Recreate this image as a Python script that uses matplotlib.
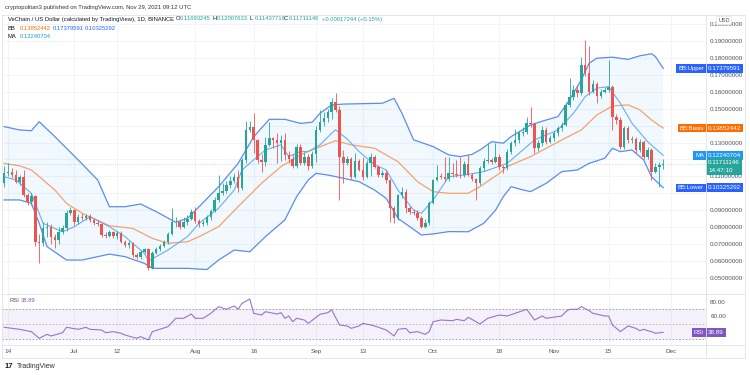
import numpy as np
import matplotlib
matplotlib.use("Agg")
from matplotlib import pyplot as plt
from matplotlib import transforms
from matplotlib.ticker import FixedFormatter
from matplotlib.lines import Line2D

plt.rcParams['font.family'] = ['Liberation Sans', 'DejaVu Sans']

"""Datos: velas diarias VET/USD, indice 0 = 13 jun 2021, ultimo = 29 nov"""
first_open = 0.1059
closes = [0.1118, 0.1128, 0.1108, 0.1069, 0.1098, 0.0990, 0.0951, 0.0984, 0.0714, 0.0705,
          0.0793, 0.0803, 0.0744, 0.0724, 0.0773, 0.0793, 0.0882, 0.0902, 0.0833, 0.0862,
          0.0852, 0.0866, 0.0842, 0.0823, 0.0819, 0.0754, 0.0750, 0.0773, 0.0748, 0.0768,
          0.0714, 0.0695, 0.0708, 0.0636, 0.0626, 0.0655, 0.0669, 0.0557, 0.0649, 0.0669,
          0.0691, 0.0710, 0.0760, 0.0829, 0.0833, 0.0803, 0.0829, 0.0848, 0.0888, 0.0836,
          0.0817, 0.0823, 0.0858, 0.0898, 0.0961, 0.1004, 0.1016, 0.1049, 0.1075, 0.1098,
          0.1030, 0.1197, 0.1375, 0.1394, 0.1315, 0.1197, 0.1187, 0.1286, 0.1325, 0.1315,
          0.1296, 0.1315, 0.1227, 0.1203, 0.1162, 0.1272, 0.1178, 0.1217, 0.1162, 0.1232,
          0.1375, 0.1424, 0.1444, 0.1483, 0.1542, 0.1493, 0.1217, 0.1178, 0.1201, 0.1099,
          0.1193, 0.1138, 0.1099, 0.1178, 0.1217, 0.1158, 0.1109, 0.1119, 0.1079, 0.0912,
          0.0853, 0.0990, 0.1010, 0.0912, 0.0892, 0.0882, 0.0853, 0.0803, 0.0823, 0.0941,
          0.1079, 0.1099, 0.1098, 0.1083, 0.1122, 0.1112, 0.1108, 0.1106, 0.1173, 0.1110,
          0.1083, 0.1063, 0.1148, 0.1193, 0.1197, 0.1187, 0.1217, 0.1158, 0.1148, 0.1246,
          0.1296, 0.1315, 0.1355, 0.1364, 0.1414, 0.1410, 0.1266, 0.1296, 0.1374, 0.1305,
          0.1325, 0.1355, 0.1384, 0.1404, 0.1522, 0.1571, 0.1611, 0.1591, 0.1758, 0.1709,
          0.1601, 0.1646, 0.1575, 0.1601, 0.1611, 0.1627, 0.1453, 0.1433, 0.1276, 0.1384,
          0.1315, 0.1323, 0.1256, 0.1305, 0.1217, 0.1256, 0.1128, 0.1158, 0.11693245, 0.11711146]
highs = [0.1160, 0.1180, 0.1150, 0.1140, 0.1110, 0.1140, 0.1000, 0.1000, 0.0990, 0.0760,
         0.0830, 0.0830, 0.0820, 0.0760, 0.0800, 0.0810, 0.0900, 0.0920, 0.0910, 0.0880,
         0.0885, 0.0880, 0.0875, 0.0855, 0.0840, 0.0825, 0.0770, 0.0785, 0.0780, 0.0780,
         0.0775, 0.0725, 0.0720, 0.0715, 0.0650, 0.0665, 0.0680, 0.0675, 0.0660, 0.0685,
         0.0700, 0.0725, 0.0770, 0.0915, 0.0860, 0.0845, 0.0862, 0.0870, 0.0905, 0.0921,
         0.0850, 0.0840, 0.0870, 0.0910, 0.0980, 0.1108, 0.1060, 0.1070, 0.1100, 0.1120,
         0.1140, 0.1210, 0.1430, 0.1430, 0.1473, 0.1320, 0.1230, 0.1330, 0.1420, 0.1335,
         0.1355, 0.1345, 0.1355, 0.1250, 0.1230, 0.1290, 0.1290, 0.1245, 0.1235, 0.1250,
         0.1400, 0.1493, 0.1480, 0.1500, 0.1560, 0.1591, 0.1515, 0.1256, 0.1220, 0.1215,
         0.1236, 0.1200, 0.1217, 0.1195, 0.1236, 0.1225, 0.1170, 0.1135, 0.1135, 0.1085,
         0.0925, 0.0995, 0.1040, 0.1025, 0.0925, 0.0910, 0.0900, 0.0865, 0.0850, 0.0955,
         0.1085, 0.1167, 0.1120, 0.1217, 0.1217, 0.1177, 0.1197, 0.1217, 0.1190, 0.1227,
         0.1120, 0.1090, 0.1160, 0.1210, 0.1296, 0.1210, 0.1300, 0.1230, 0.1170, 0.1260,
         0.1310, 0.1380, 0.1370, 0.1390, 0.1453, 0.1512, 0.1420, 0.1315, 0.1400, 0.1390,
         0.1345, 0.1370, 0.1400, 0.1420, 0.1540, 0.1680, 0.1640, 0.1640, 0.1807, 0.1906,
         0.1867, 0.1670, 0.1660, 0.1615, 0.1630, 0.1788, 0.1640, 0.1470, 0.1450, 0.1400,
         0.1395, 0.1340, 0.1335, 0.1320, 0.1315, 0.1275, 0.1265, 0.1180, 0.1187, 0.12007633]
lows = [0.1040, 0.1100, 0.1090, 0.1060, 0.1050, 0.0980, 0.0930, 0.0930, 0.0690, 0.0586,
        0.0690, 0.0740, 0.0700, 0.0680, 0.0700, 0.0760, 0.0780, 0.0870, 0.0815, 0.0820,
        0.0840, 0.0840, 0.0830, 0.0815, 0.0805, 0.0745, 0.0735, 0.0740, 0.0735, 0.0730,
        0.0705, 0.0685, 0.0680, 0.0625, 0.0615, 0.0615, 0.0645, 0.0547, 0.0552, 0.0640,
        0.0660, 0.0685, 0.0700, 0.0755, 0.0800, 0.0790, 0.0795, 0.0810, 0.0840, 0.0825,
        0.0800, 0.0805, 0.0815, 0.0845, 0.0890, 0.0950, 0.0990, 0.1000, 0.1030, 0.1060,
        0.1010, 0.1020, 0.1180, 0.1360, 0.1236, 0.1180, 0.1128, 0.1160, 0.1280, 0.1270,
        0.1177, 0.1190, 0.1197, 0.1180, 0.1150, 0.1150, 0.1165, 0.1165, 0.1140, 0.1150,
        0.1187, 0.1360, 0.1400, 0.1420, 0.1440, 0.1480, 0.0961, 0.1059, 0.1170, 0.1085,
        0.1089, 0.1130, 0.1079, 0.1090, 0.1100, 0.1150, 0.1095, 0.1095, 0.1060, 0.0833,
        0.0823, 0.0845, 0.0975, 0.0882, 0.0880, 0.0870, 0.0845, 0.0795, 0.0795, 0.0815,
        0.0935, 0.1070, 0.1085, 0.1070, 0.1075, 0.1095, 0.1095, 0.1090, 0.1095, 0.1100,
        0.1070, 0.0961, 0.1050, 0.1130, 0.1180, 0.1175, 0.1180, 0.1140, 0.1118, 0.1140,
        0.1230, 0.1280, 0.1300, 0.1340, 0.1350, 0.1390, 0.1236, 0.1250, 0.1280, 0.1290,
        0.1295, 0.1310, 0.1340, 0.1370, 0.1395, 0.1510, 0.1550, 0.1570, 0.1580, 0.1690,
        0.1580, 0.1590, 0.1532, 0.1560, 0.1590, 0.1600, 0.1374, 0.1410, 0.1260, 0.1260,
        0.1300, 0.1300, 0.1240, 0.1245, 0.1200, 0.1205, 0.1079, 0.1120, 0.1040, 0.11437716]

# Bandas de Bollinger y MA (indice de vela, valor)
upper_idx = [0, 4, 7, 9, 13, 19, 24, 27, 31, 35, 39, 44, 47, 50, 55, 60, 64, 68, 72, 76,
             79, 81, 84, 87, 97, 100, 102, 105, 110, 114, 117, 120, 122, 125, 128, 130,
             135, 139, 142, 145, 148, 150, 152, 156, 160, 163, 166, 167, 169]
upper_vals = [0.1394, 0.1374, 0.1370, 0.1423, 0.1335, 0.1197, 0.1079, 0.0921, 0.0921, 0.0937,
              0.0892, 0.0829, 0.0852, 0.0921, 0.1039, 0.1177, 0.1334, 0.1437, 0.1437, 0.1413,
              0.1420, 0.1473, 0.1522, 0.1527, 0.1532, 0.1561, 0.1473, 0.1316, 0.1276, 0.1227,
              0.1217, 0.1230, 0.1256, 0.1305, 0.1296, 0.1335, 0.1404, 0.1433, 0.1453,
              0.1552, 0.1670, 0.1768, 0.1798, 0.1804, 0.1791, 0.1812, 0.1824, 0.1808, 0.17379591]
lower_idx = [0, 4, 7, 9, 11, 16, 20, 27, 31, 36, 38, 47, 52, 55, 59, 63, 67, 72, 75, 78,
             80, 83, 87, 91, 95, 98, 101, 104, 107, 110, 114, 119, 123, 126, 128, 130, 133,
             135, 139, 143, 147, 150, 154, 156, 158, 161, 164, 166, 169]
lower_vals = [0.0961, 0.0961, 0.0941, 0.0823, 0.0685, 0.0606, 0.0606, 0.0641, 0.0626, 0.0586,
              0.0557, 0.0557, 0.0550, 0.0606, 0.0665, 0.0655, 0.0744, 0.0843, 0.0980, 0.1079,
              0.1118, 0.1108, 0.1089, 0.1069, 0.1019, 0.0970, 0.0852, 0.0803, 0.0754, 0.0760,
              0.0774, 0.0773, 0.0823, 0.0900, 0.0980, 0.1039, 0.1020, 0.1010, 0.1059, 0.1128,
              0.1138, 0.1177, 0.1207, 0.1266, 0.1246, 0.1256, 0.1197, 0.1098, 0.10325292]
basis_idx = [0, 4, 7, 13, 16, 20, 27, 33, 38, 42, 47, 50, 55, 60, 66, 71, 76, 80, 85, 89,
             95, 101, 106, 110, 114, 119, 122, 127, 129, 135, 143, 148, 152, 156, 160, 163,
             166, 169]
basis_vals = [0.1177, 0.1162, 0.1138, 0.1020, 0.0941, 0.0882, 0.0809, 0.0793, 0.0734, 0.0705,
              0.0714, 0.0744, 0.0803, 0.0921, 0.1059, 0.1158, 0.1227, 0.1266, 0.1311, 0.1286,
              0.1266, 0.1187, 0.1069, 0.1010, 0.1000, 0.1000, 0.1039, 0.1118, 0.1158, 0.1217,
              0.1315, 0.1374, 0.1463, 0.1516, 0.1522, 0.1493, 0.1433, 0.13852442]
ma_idx = [0, 3, 7, 10, 15, 18, 22, 27, 31, 36, 37, 42, 47, 50, 55, 59, 61, 65, 67, 71,
          73, 76, 78, 81, 84, 85, 88, 91, 95, 98, 101, 105, 107, 110, 114, 118, 123, 129,
          132, 136, 139, 142, 146, 149, 152, 155, 158, 161, 165, 169]
ma_vals = [0.1098, 0.1079, 0.1000, 0.0823, 0.0773, 0.0803, 0.0862, 0.0803, 0.0744, 0.0645,
           0.0600, 0.0665, 0.0744, 0.0823, 0.0912, 0.1019, 0.1138, 0.1217, 0.1256, 0.1286,
           0.1217, 0.1247, 0.1247, 0.1286, 0.1355, 0.1375, 0.1320, 0.1247, 0.1168, 0.1138,
           0.1019, 0.0901, 0.0882, 0.0960, 0.1098, 0.1108, 0.1128, 0.1177, 0.1236, 0.1315,
           0.1345, 0.1374, 0.1473, 0.1571, 0.1621, 0.1630, 0.1532, 0.1414, 0.1305, 0.12240704]

# RSI (indice de vela, valor)
rsi_idx = [0, 4, 7, 9, 11, 12, 15, 16, 19, 21, 22, 25, 26, 28, 30, 31, 34, 35, 37, 38,
           42, 43, 44, 46, 48, 49, 51, 53, 55, 57, 59, 60, 61, 63, 64, 66, 67, 70, 71, 72,
           73, 74, 75, 77, 78, 81, 83, 84, 86, 88, 89, 91, 92, 94, 95, 98, 100, 101, 103, 104,
           106, 108, 109, 110, 112, 115, 116, 118, 119, 121, 122, 124, 127, 129, 131, 133, 134,
           136, 138, 139, 143, 144, 145, 147, 148, 150, 151, 154, 155, 156, 158, 160, 162, 163,
           164, 165, 166, 167, 169]
rsi_vals = [45.6, 42.9, 39.8, 30.9, 36.2, 34.0, 38.4, 45.6, 42.9, 45.6,
            42.9, 42.0, 38.4, 39.8, 37.6, 35.3, 30.9, 33.1, 28.7, 39.8,
            46.4, 51.8, 57.6, 57.6, 63.3, 57.6, 57.6, 64.2, 73.1, 69.6,
            74.0, 69.6, 77.6, 83.3, 64.2, 62.0, 66.4, 63.3, 65.1, 57.6,
            60.7, 53.1, 57.6, 55.3, 50.9, 62.9, 65.1, 68.7, 48.7, 47.3,
            44.2, 47.3, 50.9, 48.7, 47.3, 42.0, 34.0, 42.9, 44.2, 38.4,
            39.8, 36.2, 39.8, 53.1, 55.3, 54.4, 56.2, 54.4, 58.9, 53.1,
            50.0, 57.6, 62.0, 60.7, 64.2, 67.8, 69.6, 55.3, 60.7, 57.6,
            60.7, 66.4, 69.6, 69.6, 73.1, 67.8, 64.2, 60.7, 60.7, 48.7,
            39.8, 47.3, 44.2, 41.1, 42.9, 41.1, 39.8, 37.6, 38.89]

tick_idx = [1, 18, 29, 49, 64, 80, 92, 110, 127, 141, 155, 171]
tick_labels = ['14', 'Jul', '12', 'Aug', '16', 'Sep', '13', 'Oct', '18', 'Nov', '15', 'Dec']
price_ticks = [0.05, 0.06, 0.07, 0.08, 0.09, 0.10, 0.11, 0.12, 0.13, 0.14, 0.15, 0.16,
               0.17, 0.18, 0.19, 0.20]
# etiquetas tapadas por los recuadros de precio en el original
price_hidden = [0.10, 0.12, 0.14]
rsi_ticks = [60, 80]

UP = '#26a69a'
DOWN = '#ef5350'
BLUE = '#2962ff'
MA_BLUE = '#2196f3'
ORANGE = '#ff6d00'
PURPLE = '#7e57c2'
GRID = '#f0f2f6'
FRAME = '#e0e3eb'
TXT = '#131722'
W, H = 750, 375

closes = np.array(closes)
opens = np.r_[first_open, closes[:-1]]
x = np.arange(len(closes))
colors = np.where(closes >= opens, UP, DOWN)

fig = plt.figure(figsize=(7.5, 3.75), dpi=100)
fig.patch.set_facecolor('white')

def px(x0, y0, w, h):
    return [x0 / W, 1 - (y0 + h) / H, w / W, h / H]

ax = fig.add_axes(px(2, 15, 703.7, 279))
ax_rsi = fig.add_axes(px(2, 294, 703.7, 51))

xmin, xmax = -0.54, 179.9

# ------------------ panel de precio ------------------
ax.set_xlim(xmin, xmax)
ax.set_ylim(0.04055, 0.2053)
ax.set_xticks(tick_idx)
ax.set_xticklabels([])
ax.set_yticks(price_ticks)
ax.yaxis.tick_right()
ax.yaxis.set_major_formatter(FixedFormatter(
    ['' if round(p, 2) in price_hidden else '%.8f' % p for p in price_ticks]))
ax.tick_params(axis='y', length=0, pad=3.2, labelsize=4.5, labelcolor='#50535e')
ax.tick_params(axis='x', length=0)
ax.grid(True, color=GRID, lw=0.6)
ax.set_axisbelow(True)
for s in ax.spines.values():
    s.set_visible(False)

ax.fill(np.r_[upper_idx, lower_idx[::-1]], np.r_[upper_vals, lower_vals[::-1]],
        color=MA_BLUE, alpha=0.06, lw=0, zorder=1)
ax.plot(upper_idx, upper_vals, color='#5b8cf2', lw=0.9, zorder=2)
ax.plot(lower_idx, lower_vals, color='#5b8cf2', lw=0.9, zorder=2)
ax.plot(basis_idx, basis_vals, color='#f6a36b', lw=0.9, zorder=2)
ax.plot(ma_idx, ma_vals, color='#6aaef0', lw=0.8, zorder=2)

ax.vlines(x, lows, highs, colors=colors, lw=0.6, zorder=3)
ax.bar(x, np.maximum(np.abs(closes - opens), 0.0004), bottom=np.minimum(opens, closes),
       width=0.62, color=colors, lw=0, zorder=4)
ax.axhline(closes[-1], color='#7fa8c8', lw=0.5, ls=(0, (1, 2)), alpha=0.8, zorder=2)

blend = transforms.blended_transform_factory(fig.transFigure, ax.transData)

def price_box(label, value, color, y, two=None):
    if label:
        ax.text(704 / W, y, label, transform=blend, ha='right', va='center', fontsize=4.3,
                color='white', zorder=10, clip_on=False,
                bbox=dict(boxstyle='square,pad=0.3', fc=color, ec='none'))
    s = '%.8f' % value if two is None else '%.8f\n%s' % (value, two)
    ax.text(708 / W, y, s, transform=blend, ha='left', va='center', fontsize=4.5,
            color='white', zorder=10, clip_on=False, linespacing=1.6,
            bbox=dict(boxstyle='square,pad=0.3', fc=color, ec='none'))

price_box('BB:Upper', upper_vals[-1], BLUE, upper_vals[-1])
price_box('BB:Basis', basis_vals[-1], ORANGE, basis_vals[-1])
price_box('MA', ma_vals[-1], MA_BLUE, ma_vals[-1])
price_box(None, closes[-1], UP, closes[-1] - 0.0013, two='14:47:10')
price_box('BB:Lower', lower_vals[-1], BLUE, lower_vals[-1])

# ------------------ panel RSI ------------------
ax_rsi.set_xlim(xmin, xmax)
ax_rsi.set_ylim(22, 90)
ax_rsi.fill_between([xmin, xmax], 30, 70, color=PURPLE, alpha=0.08, lw=0)
for lv, c in [(70, '#9598a1'), (50, '#b2b5be'), (30, '#9598a1')]:
    ax_rsi.axhline(lv, color=c, lw=0.6, ls=(0, (2, 2)))
ax_rsi.plot(rsi_idx, rsi_vals, color=PURPLE, lw=0.8, alpha=0.8)
ax_rsi.set_xticks(tick_idx)
ax_rsi.set_xticklabels(tick_labels)
ax_rsi.set_yticks(rsi_ticks)
ax_rsi.yaxis.tick_right()
ax_rsi.yaxis.set_major_formatter(plt.FormatStrFormatter('%.2f'))
ax_rsi.tick_params(axis='y', length=0, pad=3.2, labelsize=4.5, labelcolor='#50535e')
ax_rsi.tick_params(axis='x', length=0, pad=3.0, labelsize=4.6, labelcolor='#50535e')
ax_rsi.grid(True, axis='x', color=GRID, lw=0.6)
ax_rsi.set_axisbelow(True)
for s in ax_rsi.spines.values():
    s.set_visible(False)

blend_r = transforms.blended_transform_factory(fig.transFigure, ax_rsi.transData)
ax_rsi.text(704 / W, rsi_vals[-1], 'RSI', transform=blend_r, ha='right', va='center',
            fontsize=4.3, color='white', zorder=10, clip_on=False,
            bbox=dict(boxstyle='square,pad=0.3', fc=PURPLE, ec='none'))
ax_rsi.text(708 / W, rsi_vals[-1], '%.2f' % rsi_vals[-1], transform=blend_r, ha='left',
            va='center', fontsize=4.5, color='white', zorder=10, clip_on=False,
            bbox=dict(boxstyle='square,pad=0.3', fc=PURPLE, ec='none'))

# ------------------ marcos y textos ------------------
def hline(y, x0=2, x1=745):
    fig.add_artist(Line2D([x0 / W, x1 / W], [1 - y / H, 1 - y / H], color=FRAME, lw=0.6))

def vline(xp, y0=15, y1=358):
    fig.add_artist(Line2D([xp / W, xp / W], [1 - y0 / H, 1 - y1 / H], color=FRAME, lw=0.6))

for yy in (15, 294, 345, 358):
    hline(yy)
for xx in (2, 705.7, 745):
    vline(xx)

def ftxt(xp, yp, s, **kw):
    kw.setdefault('fontsize', 4.2)
    kw.setdefault('color', TXT)
    fig.text(xp / W, 1 - yp / H, s, va='center', ha='left', **kw)

ftxt(5, 7, 'cryptopolitan3 published on TradingView.com, Nov 29, 2021 09:12 UTC', color='#333333')
ftxt(8, 19, 'VeChain / US Dollar (calculated by TradingView), 1D, BINANCE')
ohlc = [('O', 175.7, '0.11693245'), ('H', 212.3, '0.12007633'),
        ('L', 250, '0.11437716'), ('C', 284, '0.11711146')]
for lab, xp, val in ohlc:
    ftxt(xp, 19, lab)
    ftxt(xp + 4.3, 19, val, color=UP)
ftxt(321.7, 19, '+0.00017244 (+0.15%)', color=UP)

ftxt(8, 28, 'BB')
ftxt(20, 28, '0.13852442', color=ORANGE)
ftxt(52.5, 28, '0.17379591', color=BLUE)
ftxt(85, 28, '0.10325292', color=BLUE)
ftxt(8, 36, 'MA')
ftxt(20, 36, '0.12240704', color=MA_BLUE)

ftxt(9, 300.5, 'RSI', color='#50535e')
ftxt(21, 300.5, '38.89', color=PURPLE)

fig.text(724 / W, 1 - 20.5 / H, 'USD', fontsize=4, color='#50535e', ha='center', va='center',
         bbox=dict(boxstyle='round,pad=0.3', fc='white', ec=FRAME, lw=0.5))

ftxt(5, 367, '17', fontsize=5.5, fontweight='bold')
ftxt(16.5, 367, 'TradingView', fontsize=5, color='#333333')

plt.savefig('out.png', dpi=100)
